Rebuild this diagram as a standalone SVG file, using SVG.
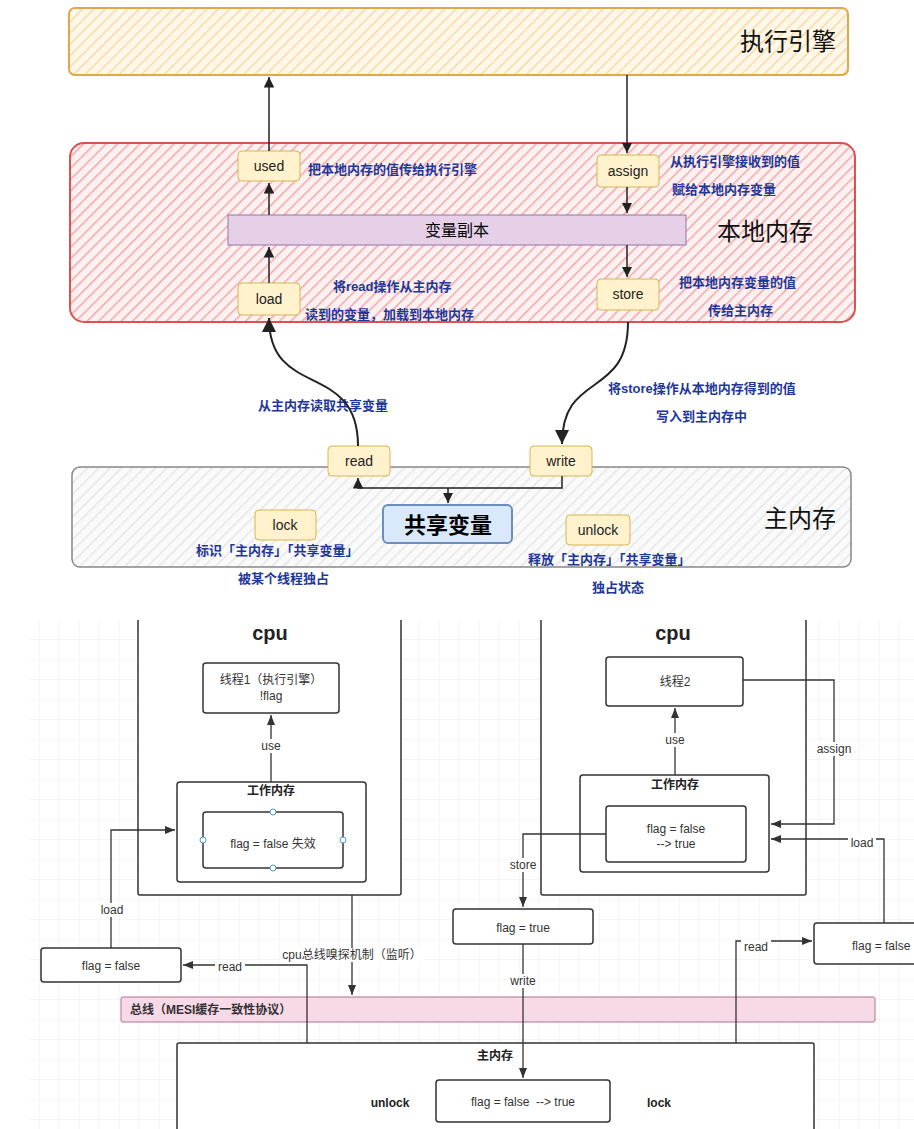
<svg xmlns="http://www.w3.org/2000/svg" width="914" height="1129" viewBox="0 0 914 1129">
<defs>
<pattern id="hy" width="8" height="8" patternUnits="userSpaceOnUse" patternTransform="rotate(45)"><rect width="8" height="8" fill="#fff8e8"/><line x1="0" y1="0" x2="0" y2="8" stroke="#f6d9a8" stroke-width="3"/></pattern>
<pattern id="hr" width="8" height="8" patternUnits="userSpaceOnUse" patternTransform="rotate(45)"><rect width="8" height="8" fill="#fdf0f0"/><line x1="0" y1="0" x2="0" y2="8" stroke="#f0a8a8" stroke-width="3"/></pattern>
<pattern id="hg" width="8" height="8" patternUnits="userSpaceOnUse" patternTransform="rotate(45)"><rect width="8" height="8" fill="#fafafa"/><line x1="0" y1="0" x2="0" y2="8" stroke="#e6e6e6" stroke-width="3"/></pattern>
<pattern id="grid" width="20" height="20" patternUnits="userSpaceOnUse"><rect width="20" height="20" fill="#fff"/><path d="M20 0V20H0" fill="none" stroke="#eeeeee" stroke-width="1"/></pattern>
<marker id="a" viewBox="0 0 10 10" refX="10" refY="5" markerWidth="7" markerHeight="7" orient="auto-start-reverse"><path d="M0 0L10 5L0 10z" fill="#222"/></marker>
<marker id="b" viewBox="0 0 10 10" refX="10" refY="5" markerWidth="8" markerHeight="8" orient="auto-start-reverse"><path d="M0 1L10 5L0 9z" fill="#333"/></marker>
</defs>
<style>
text{font-family:"Liberation Sans","Noto Sans CJK SC",sans-serif;}
.y{fill:#fff2cc;stroke:#d6b656;stroke-width:1}
.yt{font-size:14px;text-anchor:middle;fill:#222}
.bl{font-size:13px;fill:#1e3799;font-weight:bold}
.big{font-size:24px;fill:#111}
.b{fill:#fff;stroke:#333;stroke-width:1.5}
.t{font-size:12px;text-anchor:middle;fill:#333}
.ts{font-size:12px;fill:#333}
.lb{font-size:12px;text-anchor:middle;fill:#333}
.lbg{fill:#fff}
.h{font-size:12px;font-weight:bold;text-anchor:middle;fill:#222}
</style>
<rect width="914" height="1129" fill="#fff"/>
<rect x="27" y="620" width="887" height="509" fill="url(#grid)"/>

<g id="engine"><rect x="69" y="8" width="779" height="67" rx="6" fill="url(#hy)" stroke="#e0a84a" stroke-width="2"/><text x="788" y="50" class="big" text-anchor="middle">执行引擎</text></g>
<g id="local"><rect x="70" y="143" width="785" height="179" rx="14" fill="url(#hr)" stroke="#d9534f" stroke-width="2"/><text x="765" y="240" class="big" text-anchor="middle">本地内存</text></g>
<g id="copy"><rect x="228" y="215" width="458" height="30" fill="#e6d0e8" stroke="#9673a6"/><text x="457" y="236" font-size="16" text-anchor="middle">变量副本</text></g>
<g id="mainmem"><rect x="72" y="467" width="779" height="100" rx="8" fill="url(#hg)" stroke="#888" stroke-width="1.5"/><text x="800" y="527" class="big" text-anchor="middle">主内存</text></g>
<g id="shared"><rect x="383" y="505" width="129" height="38" rx="5" fill="#dae8fc" stroke="#6c8ebf" stroke-width="2"/><text x="448" y="533" font-size="22" font-weight="bold" text-anchor="middle">共享变量</text></g>
<g id="used"><rect class="y" x="238" y="151" width="62" height="30" rx="4"/><text class="yt" x="269" y="171">used</text></g>
<g id="assign"><rect class="y" x="597" y="155" width="62" height="32" rx="4"/><text class="yt" x="628" y="176">assign</text></g>
<g id="load"><rect class="y" x="238" y="283" width="62" height="32" rx="4"/><text class="yt" x="269" y="304">load</text></g>
<g id="store"><rect class="y" x="597" y="279" width="62" height="31" rx="4"/><text class="yt" x="628" y="299">store</text></g>
<g id="read"><rect class="y" x="328" y="446" width="62" height="30" rx="4"/><text class="yt" x="359" y="466">read</text></g>
<g id="write"><rect class="y" x="530" y="446" width="62" height="30" rx="4"/><text class="yt" x="561" y="466">write</text></g>
<g id="lock"><rect class="y" x="255" y="510" width="61" height="30" rx="4"/><text class="yt" x="285" y="530">lock</text></g>
<g id="unlock"><rect class="y" x="566" y="515" width="64" height="30" rx="4"/><text class="yt" x="598" y="535">unlock</text></g>

<g id="toplabels">
<text class="bl" x="308" y="174">把本地内存的值传给执行引擎</text>
<text class="bl" x="670" y="166">从执行引擎接收到的值</text>
<text class="bl" x="672" y="194">赋给本地内存变量</text>
<text class="bl" x="333" y="291">将read操作从主内存</text>
<text class="bl" x="305" y="319">读到的变量，加载到本地内存</text>
<text class="bl" x="679" y="287">把本地内存变量的值</text>
<text class="bl" x="708" y="315">传给主内存</text>
<text class="bl" x="258" y="410">从主内存读取共享变量</text>
<text class="bl" x="608" y="393">将store操作从本地内存得到的值</text>
<text class="bl" x="656" y="421">写入到主内存中</text>
<text class="bl" x="196" y="555">标识「主内存」「共享变量」</text>
<text class="bl" x="238" y="583">被某个线程独占</text>
<text class="bl" x="528" y="564">释放「主内存」「共享变量」</text>
<text class="bl" x="592" y="592">独占状态</text>
</g>

<g id="cpu1"><path class="b" d="M138 620V893a2 2 0 0 0 2 2H399a2 2 0 0 0 2-2V620"/><text x="270" y="640" font-size="20" font-weight="bold" text-anchor="middle" fill="#222">cpu</text></g>
<g id="t1"><rect class="b" x="203" y="663" width="136" height="50" rx="3"/><text class="t" x="271" y="684">线程1（执行引擎）</text><text class="t" x="271" y="700">!flag</text></g>
<g id="wm1"><rect class="b" x="177" y="782" width="189" height="100" rx="3"/><text class="h" x="271" y="795">工作内存</text></g>
<g id="f1"><rect class="b" x="203" y="812" width="140" height="56" rx="3"/><text class="t" x="273" y="848">flag = false 失效</text>
<g fill="#fff" stroke="#4a9ad4"><circle cx="273" cy="812" r="3"/><circle cx="273" cy="868" r="3"/><circle cx="203" cy="840" r="3"/><circle cx="343" cy="840" r="3"/></g></g>
<g id="fl"><rect class="b" x="41" y="948" width="140" height="34" rx="3"/><text class="t" x="111" y="970">flag = false</text></g>
<g id="bus"><rect x="121" y="997" width="754" height="25" rx="2" fill="#f8d9e8" stroke="#b07090"/><text x="130" y="1014" font-size="12" font-weight="bold" fill="#333">总线（MESI缓存一致性协议）</text></g>
<g id="mm"><path class="b" d="M177 1129V1045a2 2 0 0 1 2-2H812a2 2 0 0 1 2 2V1129"/><text class="h" x="495" y="1060">主内存</text><text class="h" x="390" y="1107">unlock</text><text class="h" x="659" y="1107">lock</text></g>
<g id="fm"><rect class="b" x="436" y="1080" width="174" height="42" rx="3"/><text class="t" x="523" y="1106" xml:space="preserve">flag = false  --&gt; true</text></g>
<g id="cpu2"><path class="b" d="M541 620V893a2 2 0 0 0 2 2H804a2 2 0 0 0 2-2V620"/><text x="673" y="640" font-size="20" font-weight="bold" text-anchor="middle" fill="#222">cpu</text></g>
<g id="t2"><rect class="b" x="606" y="657" width="137" height="49" rx="3"/><text class="t" x="675" y="686">线程2</text></g>
<g id="wm2"><rect class="b" x="580" y="775" width="189" height="97" rx="3"/><text class="h" x="675" y="789">工作内存</text></g>
<g id="f2"><rect class="b" x="606" y="806" width="140" height="56" rx="3"/><text class="t" x="676" y="833">flag = false</text><text class="t" x="676" y="848">--&gt; true</text></g>
<g id="ft"><rect class="b" x="453" y="909" width="140" height="35" rx="3"/><text class="t" x="523" y="932">flag = true</text></g>
<g id="fr"><rect class="b" x="814" y="923" width="110" height="41" rx="3"/><text class="ts" x="852" y="950">flag = false</text></g>

<g id="connectors">
<g stroke="#222" stroke-width="1.5" fill="none">
<path d="M269 151V77" marker-end="url(#a)"/>
<path d="M269 215V183" marker-end="url(#a)"/>
<path d="M269 283V247" marker-end="url(#a)"/>
<path d="M627 75V153" marker-end="url(#a)"/>
<path d="M627 187V213" marker-end="url(#a)"/>
<path d="M627 245V277" marker-end="url(#a)"/>
<path d="M358 446C358 360 269 400 269 318" stroke-width="2" marker-end="url(#a)"/>
<path d="M628 322C628 400 562 370 562 444" stroke-width="2" marker-end="url(#a)"/>
<path d="M562 476V488H358V478" marker-end="url(#a)"/>
<path d="M448 488V503" marker-end="url(#a)"/>
</g>
<g stroke="#333" stroke-width="1.3" fill="none">
<path d="M271 782V715" marker-end="url(#b)"/>
<path d="M111 948V830H175" marker-end="url(#b)"/>
<path d="M307 1043V965H183" marker-end="url(#b)"/>
<path d="M352 895V995" marker-end="url(#b)"/>
<path d="M675 775V708" marker-end="url(#b)"/>
<path d="M743 680H834V824H771" marker-end="url(#b)"/>
<path d="M884 923V839H771" marker-end="url(#b)"/>
<path d="M736 1043V941H812" marker-end="url(#b)"/>
<path d="M606 834H523V907" marker-end="url(#b)"/>
<path d="M523 944V1078" marker-end="url(#b)"/>
</g>
<g>
<rect class="lbg" x="259" y="739" width="24" height="14"/><text class="lb" x="271" y="750">use</text>
<rect class="lbg" x="663" y="733" width="24" height="14"/><text class="lb" x="675" y="744">use</text>
<rect class="lbg" x="98" y="903" width="28" height="14"/><text class="lb" x="112" y="914">load</text>
<rect class="lbg" x="215" y="960" width="30" height="14"/><text class="lb" x="230" y="971">read</text>
<rect class="lbg" x="280" y="948" width="143" height="14"/><text class="lb" x="352" y="959">cpu总线嗅探机制（监听）</text>
<rect class="lbg" x="815" y="742" width="38" height="14"/><text class="lb" x="834" y="753">assign</text>
<rect class="lbg" x="848" y="836" width="28" height="14"/><text class="lb" x="862" y="847">load</text>
<rect class="lbg" x="741" y="940" width="30" height="14"/><text class="lb" x="756" y="951">read</text>
<rect class="lbg" x="507" y="858" width="32" height="14"/><text class="lb" x="523" y="869">store</text>
<rect class="lbg" x="507" y="974" width="32" height="14"/><text class="lb" x="523" y="985">write</text>
</g>
</g>
</svg>
